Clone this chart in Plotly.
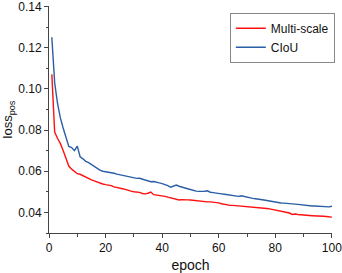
import plotly.graph_objects as go

epochs = list(range(1, 101))

multi_scale = [
    0.107, 0.079, 0.076, 0.0735, 0.070, 0.066, 0.0625, 0.0610, 0.0598, 0.0588,
    0.0585, 0.0578, 0.0568, 0.0562, 0.0558, 0.0553, 0.0548, 0.0540, 0.0538, 0.0535,
    0.0533, 0.0530, 0.0524, 0.0520, 0.0517, 0.0515, 0.0512, 0.0506, 0.0503, 0.0500,
    0.0500, 0.0497, 0.0492, 0.0490, 0.0493, 0.0499, 0.0486, 0.0484, 0.0485, 0.0482,
    0.0478, 0.0474, 0.0470, 0.0466, 0.0462, 0.0460, 0.0462, 0.0463, 0.0461, 0.0460,
    0.0458, 0.0457, 0.0456, 0.0455, 0.0453, 0.0451, 0.0451, 0.0450, 0.0449, 0.0446,
    0.0442, 0.0439, 0.0436, 0.0434, 0.0434, 0.0433, 0.0432, 0.0431, 0.0430, 0.0429,
    0.0428, 0.0427, 0.0426, 0.0425, 0.0424, 0.0422, 0.0419, 0.0417, 0.0414, 0.0412,
    0.0410, 0.0408, 0.0405, 0.0402, 0.0397, 0.0390, 0.0392, 0.0390, 0.0388, 0.0386,
    0.0385, 0.0385, 0.0384, 0.0384, 0.0383, 0.0382, 0.0381, 0.0380, 0.0378, 0.0377,
]

ciou = [
    0.125, 0.103, 0.093, 0.086, 0.081, 0.076, 0.072, 0.0715, 0.0700, 0.0722,
    0.0670, 0.0660, 0.0648, 0.0642, 0.0632, 0.0625, 0.0615, 0.0605, 0.0600, 0.0598,
    0.0597, 0.0593, 0.0590, 0.0586, 0.0583, 0.0580, 0.0577, 0.0573, 0.0570, 0.0568,
    0.0565, 0.0566, 0.0562, 0.0556, 0.0552, 0.0549, 0.0550, 0.0545, 0.0543, 0.0540,
    0.0536, 0.0530, 0.0522, 0.0526, 0.0533, 0.0527, 0.0522, 0.0519, 0.0515, 0.0511,
    0.0506, 0.0503, 0.0502, 0.0501, 0.0503, 0.0505, 0.0498, 0.0496, 0.0493, 0.0491,
    0.0490, 0.0488, 0.0486, 0.0484, 0.0482, 0.0480, 0.0478, 0.0481, 0.0477, 0.0474,
    0.0471, 0.0468, 0.0466, 0.0463, 0.0461, 0.0460, 0.0458, 0.0455, 0.0452, 0.0450,
    0.0447, 0.0446, 0.0445, 0.0443, 0.0442, 0.0440, 0.0440, 0.0439, 0.0437, 0.0435,
    0.0433, 0.0431, 0.0431, 0.0431, 0.0430, 0.0430, 0.0430, 0.0429, 0.0427, 0.0430,
]

x_ticks = [0, 20, 40, 60, 80, 100]
y_ticks = [0.04, 0.06, 0.08, 0.10, 0.12, 0.14]
y_tick_labels = ["0.04", "0.06", "0.08", "0.10", "0.12", "0.14"]

fig = go.Figure()
fig.add_trace(go.Scatter(x=epochs, y=multi_scale, mode="lines", name="Multi-scale",
                         line=dict(color="#ff1010", width=1.4)))
fig.add_trace(go.Scatter(x=epochs, y=ciou, mode="lines", name="CIoU",
                         line=dict(color="#2a5ea6", width=1.4)))

axis_font = dict(family="Liberation Sans, Arial, sans-serif", size=12, color="#111")
fig.update_layout(
    width=342, height=273,
    margin=dict(l=49, r=10, t=6, b=40, autoexpand=False),
    plot_bgcolor="white", paper_bgcolor="white",
    font=axis_font,
    showlegend=True,
    legend=dict(x=1.01, y=0.97, xanchor="right", yanchor="top",
                bordercolor="#888", borderwidth=1, bgcolor="white",
                font=dict(family="Liberation Sans, Arial, sans-serif", size=12, color="#111"),
                tracegroupgap=0, itemwidth=30),
    xaxis=dict(range=[0, 100.05], tickvals=x_ticks, showline=True, linecolor="#444",
               linewidth=1, ticks="outside", ticklen=4, tickcolor="#444",
               showgrid=False, zeroline=False, automargin=False, ticklabeloverflow="allow",
               title=dict(text="epoch", standoff=5),
               minor=dict(dtick=10, ticks="outside", ticklen=2.5, tickcolor="#444", showgrid=False)),
    yaxis=dict(range=[0.03, 0.1402], tickvals=y_ticks, ticktext=y_tick_labels, showline=True,
               linecolor="#444", linewidth=1, ticks="outside", ticklen=4, tickcolor="#444",
               showgrid=False, zeroline=False, automargin=False, ticklabeloverflow="allow",
               title=dict(text="loss<sub>pos</sub>", standoff=3, font=dict(size=13)),
               minor=dict(tickvals=[0.03, 0.05, 0.07, 0.09, 0.11, 0.13], ticks="outside",
                          ticklen=2.5, tickcolor="#444", showgrid=False)),
)

fig.write_html("out.html", config={"displayModeBar": False},
               post_script="document.body.style.margin='0';")
